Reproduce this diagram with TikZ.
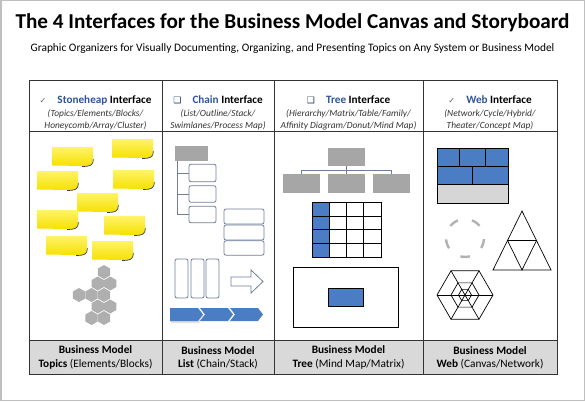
\documentclass[tikz,border=0pt]{standalone}
\usepackage{fontspec}
\setmainfont{Carlito}
\newfontfamily\dejavu{DejaVu Sans}
\usetikzlibrary{shapes.geometric,calc}
\definecolor{namecol}{HTML}{2F5597}
\definecolor{bluefill}{HTML}{4A7DC4}
\definecolor{grayfill}{HTML}{A6A6A6}
\definecolor{chainline}{HTML}{6F7F99}
\definecolor{footcol}{HTML}{D9D9D9}
\definecolor{framecol}{HTML}{BFBFBF}
\definecolor{stickytop}{HTML}{FFF36A}
\definecolor{stickybot}{HTML}{F5E100}
\newcommand\stickynote[2]{%
  \shade[top color=stickytop,bottom color=stickybot]
    (#1,#2) -- ({#1+41},#2) -- ({#1+41},{#2+14}) .. controls ({#1+41},{#2+18}) and ({#1+38},{#2+19}) .. ({#1+32},{#2+19}) -- (#1,{#2+18.5}) -- cycle;
  \draw[black!75,line width=0.7]
    ({#1+41.4},{#2+12}) .. controls ({#1+41.4},{#2+18.5}) and ({#1+38},{#2+19.6}) .. ({#1+30},{#2+19.4});
}
\tikzset{
  tline/.style={draw=black!80,line width=0.8pt},
  hexcell/.style={regular polygon,regular polygon sides=6,shape border rotate=30,minimum size=14pt,inner sep=0pt,fill=grayfill!90,draw=none},
  chainbox/.style={draw=chainline,line width=0.8pt,rounded corners=2pt,fill=white},
  graybox/.style={fill=grayfill,draw=none},
  headA/.style={font=\fontsize{11.2}{13}\selectfont\bfseries,anchor=base},
  headB/.style={font=\fontsize{9.4}{12.2}\selectfont\itshape,align=center,text=black!80},
  footlab/.style={font=\fontsize{11.3}{13.3}\selectfont,align=center},
  blk/.style={draw=black,line width=0.7pt}
}
\begin{document}
\begin{tikzpicture}[x=1pt,y=-1pt]
\useasboundingbox (0,0) rectangle (585,401);
\fill[white] (0,0) rectangle (585,401);
\draw[framecol,line width=1.5pt] (0.75,0.75) rectangle (584.25,400.25);

% titles
\node[font=\fontsize{21.2}{24}\selectfont\bfseries] (title) at (292.5,23) {The 4 Interfaces for the Business Model Canvas and Storyboard};
\node[font=\fontsize{11.4}{13}\selectfont] (subtitle) at (292.5,48.5) {Graphic Organizers for Visually Documenting, Organizing, and Presenting Topics on Any System or Business Model};

% table
\fill[footcol] (29,340) rectangle (557,374);
\draw[tline] (29,80) rectangle (557,374);
\draw[tline] (29,131) -- (557,131);
\draw[tline] (29,340) -- (557,340);
\foreach \xx in {162,274,423} \draw[tline] (\xx,80) -- (\xx,374);

% headers
\node[headA] (h1) at (95.5,103) {{\dejavu\fontsize{8}{8}\selectfont\color{black!60}✓}\quad\textcolor{namecol}{Stoneheap} Interface};
\node[headB] (h1b) at (95.5,119.5) {(Topics/Elements/Blocks/\\Honeycomb/Array/Cluster)};
\node[headA] (h2) at (218,103) {{\dejavu\fontsize{9}{9}\selectfont\color{namecol!70!black}❑}\quad\textcolor{namecol}{Chain} Interface};
\node[headB] (h2b) at (218,119.5) {(List/Outline/Stack/\\Swimlanes/Process Map)};
\node[headA] (h3) at (348.5,103) {{\dejavu\fontsize{9}{9}\selectfont\color{namecol!70!black}❑}\quad\textcolor{namecol}{Tree} Interface};
\node[headB] (h3b) at (348.5,119.5) {(Hierarchy/Matrix/Table/Family/\\Affinity Diagram/Donut/Mind Map)};
\node[headA] (h4) at (490,103) {{\dejavu\fontsize{8}{8}\selectfont\color{black!60}✓}\quad\textcolor{namecol}{Web} Interface};
\node[headB] (h4b) at (490,119.5) {(Network/Cycle/Hybrid/\\Theater/Concept Map)};

% footers
\node[footlab] (f1) at (95.5,357.5) {\textbf{Business Model}\\\textbf{Topics} (Elements/Blocks)};
\node[footlab] (f2) at (218,357.5) {\textbf{Business Model}\\\textbf{List} (Chain/Stack)};
\node[footlab] (f3) at (348.5,357.5) {\textbf{Business Model}\\\textbf{Tree} (Mind Map/Matrix)};
\node[footlab] (f4) at (490,357.5) {\textbf{Business Model}\\\textbf{Web} (Canvas/Network)};

% column 1: sticky notes
\stickynote{112}{139}
\stickynote{52}{147}
\stickynote{37}{171}
\stickynote{113}{170}
\stickynote{77}{193}
\stickynote{37}{210}
\stickynote{104}{216}
\stickynote{46}{236}
\stickynote{92}{241}
% honeycomb
\foreach \hx/\hy [count=\i] in {104/272, 97.75/283.5, 110.25/283.5, 79/295, 91.5/295, 104/295, 97.75/306.5, 110.25/306.5, 91.5/318, 104/318}
  \node[hexcell] (hc\i) at (\hx,\hy) {};

% column 2: chain
\node[graybox,minimum width=33pt,minimum height=15pt,inner sep=0pt] (cg) at (191.5,153.5) {};
\node[chainbox,minimum width=27pt,minimum height=17.5pt,inner sep=0pt] (c1) at (202.5,173) {};
\node[chainbox,minimum width=27pt,minimum height=16.5pt,inner sep=0pt] (c2) at (202.5,194) {};
\node[chainbox,minimum width=27pt,minimum height=16.5pt,inner sep=0pt] (c3) at (202.5,214.5) {};
\draw[chainline,line width=0.8pt] ([xshift=3pt]cg.south west) |- (c3.west);
\draw[chainline,line width=0.8pt] ([xshift=3pt]cg.south west |- c1.west) -- (c1.west);
\draw[chainline,line width=0.8pt] ([xshift=3pt]cg.south west |- c2.west) -- (c2.west);
% stack
\node[chainbox,minimum width=40pt,minimum height=15pt,inner sep=0pt] (s1) at (244,216.5) {};
\node[chainbox,minimum width=40pt,minimum height=15pt,inner sep=0pt] (s2) at (244,232.5) {};
\node[chainbox,minimum width=40pt,minimum height=14.5pt,inner sep=0pt] (s3) at (244,248) {};
% swimlanes
\node[chainbox,minimum width=13pt,minimum height=39pt,inner sep=0pt] (v1) at (181.5,278.5) {};
\node[chainbox,minimum width=13pt,minimum height=39pt,inner sep=0pt] (v2) at (197.5,278.5) {};
\node[chainbox,minimum width=13pt,minimum height=39pt,inner sep=0pt] (v3) at (212.5,278.5) {};
% block arrow
\draw[chainline,line width=0.8pt,fill=white,line join=miter] (231,277) -- (251,277) -- (251,270) -- (263,281.5) -- (251,293) -- (251,286) -- (231,286) -- cycle;
% chevrons
\fill[black!12] (171,310) -- (199,310) -- (204,316.5) -- (199,323) -- (171,323) -- cycle;
\foreach \cx [count=\k] in {170,200,230}{
  \ifnum\k=1
    \fill[bluefill] (\cx,308) -- ({\cx+28},308) -- ({\cx+33},314.5) -- ({\cx+28},321) -- (\cx,321) -- cycle;
  \else
    \fill[bluefill] (\cx,308) -- ({\cx+28},308) -- ({\cx+33},314.5) -- ({\cx+28},321) -- (\cx,321) -- ({\cx+5},314.5) -- cycle;
  \fi
}

% column 3: tree
\node[graybox,minimum width=37pt,minimum height=18pt,inner sep=0pt] (t0) at (346.5,157) {};
\node[graybox,minimum width=37pt,minimum height=19pt,inner sep=0pt] (t1) at (301.5,183.5) {};
\node[graybox,minimum width=37pt,minimum height=19pt,inner sep=0pt] (t2) at (346.5,183.5) {};
\node[graybox,minimum width=37pt,minimum height=19pt,inner sep=0pt] (t3) at (391.5,183.5) {};
\draw[chainline,line width=0.8pt] (t0.south) -- (t2.north);
\draw[chainline,line width=0.8pt] (t1.north) -- ++(0,-3.5) -| (t3.north);
% matrix
\fill[bluefill] (312,202) rectangle (329.25,257.5);
\foreach \gx in {312,329.25,346.5,363.75,381} \draw[blk] (\gx,202) -- (\gx,257.5);
\foreach \gy in {202,215.875,229.75,243.625,257.5} \draw[blk] (312,\gy) -- (381,\gy);
% donut frame
\node[blk,minimum width=105pt,minimum height=60pt,inner sep=0pt] (tf) at (345.5,297) {};
\node[blk,fill=bluefill,minimum width=35pt,minimum height=18pt,inner sep=0pt] (tb) at (345.5,297) {};

% column 4: web
\fill[bluefill] (437,148) rectangle (508,184);
\fill[black!16] (437,184) rectangle (508,203);
\draw[blk] (437,148) rectangle (508,203);
\draw[blk] (437,166.5) -- (508,166.5);
\draw[blk] (437,184) -- (508,184);
\draw[blk] (459.5,148) -- (459.5,166.5);
\draw[blk] (485.5,148) -- (485.5,166.5);
\draw[blk] (472.5,166.5) -- (472.5,184);
% dashed cycle
\node[circle,draw=black!30,line width=2.4pt,dash pattern=on 9.5pt off 14.38pt,dash phase=4.75pt,minimum size=38pt,inner sep=0pt,rotate=-18] (cyc) at (465,238) {};
% triangle
\coordinate (ta) at (522,211);
\coordinate (tl) at (493,270);
\coordinate (tr) at (551,270);
\draw[blk,line join=miter] (ta) -- (tl) -- (tr) -- cycle;
\draw[blk] ($(ta)!0.5!(tl)$) -- ($(ta)!0.5!(tr)$) -- ($(tl)!0.5!(tr)$) -- cycle;
% hexagon web
\node[regular polygon,regular polygon sides=6,minimum size=56pt,inner sep=0pt,draw,line width=0.7pt,outer sep=0pt] (hx1) at (465,295) {};
\node[regular polygon,regular polygon sides=6,minimum size=28pt,inner sep=0pt,draw,line width=0.7pt,outer sep=0pt] (hx2) at (465,295) {};
\node[regular polygon,regular polygon sides=6,minimum size=13pt,inner sep=0pt,draw,line width=0.7pt,outer sep=0pt] (hx3) at (465,295) {};
\draw[blk] (hx1.corner 1) -- (hx1.corner 4);
\draw[blk] (hx1.corner 2) -- (hx1.corner 5);
\draw[blk] (hx1.corner 3) -- (hx1.corner 6);
\end{tikzpicture}
\end{document}
